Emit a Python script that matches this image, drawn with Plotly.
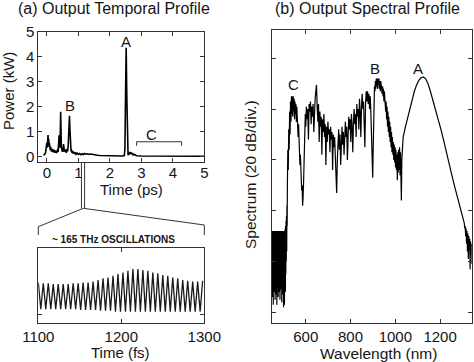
import plotly.graph_objects as go

W, H = 474, 362


def px(x):
    return x / W


def py(y):
    return 1 - y / H


FONT = "Liberation Sans, Arial, Helvetica, sans-serif"
INK = "#151515"

# ---------------- data ----------------
# (a) output temporal profile
time_ps = [
    -0.10, -0.07, -0.04, -0.02, 0.00, 0.01, 0.02, 0.03, 0.04, 0.05,
    0.06, 0.07, 0.08, 0.09, 0.10, 0.11, 0.12, 0.13, 0.14, 0.15,
    0.17, 0.19, 0.21, 0.23, 0.25, 0.27, 0.29, 0.31, 0.33, 0.35,
    0.36, 0.37, 0.38, 0.39, 0.40, 0.41, 0.42, 0.43, 0.44, 0.45,
    0.46, 0.47, 0.48, 0.49, 0.50, 0.51, 0.52, 0.53, 0.54, 0.55,
    0.56, 0.57, 0.58, 0.60, 0.62, 0.64, 0.66, 0.68, 0.70, 0.71,
    0.72, 0.73, 0.74, 0.75, 0.76, 0.77, 0.78, 0.80, 0.82, 0.84,
    0.86, 0.88, 0.90, 0.93, 0.96, 1.00, 1.04, 1.08, 1.12, 1.16,
    1.20, 1.25, 1.30, 1.35, 1.40, 1.50, 1.60, 1.70, 1.80, 1.90,
    2.00, 2.20, 2.40, 2.46, 2.48, 2.50, 2.52, 2.54, 2.56, 2.58,
    2.60, 2.62, 2.64, 2.66, 2.68, 2.70, 2.72, 2.74, 2.78, 2.85,
    3.00, 3.30, 3.60, 3.90, 4.20, 4.50, 4.80, 5.00,
]
power_kw = [
    0.05, 0.08, 0.15, 0.30, 0.55, 0.35, 0.62, 0.40, 0.86, 0.45,
    0.70, 0.38, 0.55, 0.30, 0.45, 0.25, 0.38, 0.22, 0.33, 0.20,
    0.30, 0.18, 0.28, 0.16, 0.25, 0.15, 0.22, 0.14, 0.20, 0.30,
    0.18, 0.50, 0.30, 0.85, 0.45, 0.70, 0.35, 1.20, 1.79, 1.10,
    0.40, 0.25, 0.35, 0.20, 0.30, 0.18, 0.28, 0.50, 0.25, 0.40,
    0.20, 0.30, 0.18, 0.25, 0.15, 0.30, 0.20, 0.45, 0.90, 1.30,
    1.63, 1.20, 0.60, 0.30, 0.40, 0.20, 0.28, 0.15, 0.22, 0.12,
    0.18, 0.10, 0.16, 0.09, 0.14, 0.08, 0.12, 0.07, 0.11, 0.08,
    0.12, 0.09, 0.11, 0.08, 0.10, 0.06, 0.05, 0.04, 0.035, 0.03,
    0.025, 0.02, 0.02, 0.04, 0.30, 2.50, 4.35, 2.40, 0.30, 0.05,
    0.15, 0.08, 0.18, 0.10, 0.16, 0.09, 0.14, 0.06, 0.08, 0.03,
    0.02, 0.02, 0.03, 0.03, 0.02, 0.02, 0.01, 0.01,
]
time_ticks = [0, 1, 2, 3, 4, 5]
power_ticks = [0, 1, 2, 3, 4, 5]

# inset: ~165 THz oscillations (peaks / troughs)
osc_time_fs = [
    1100, 1103, 1106, 1109, 1112, 1115, 1118, 1121, 1124, 1127,
    1130, 1133, 1136, 1139, 1142, 1145, 1148, 1151, 1154, 1157,
    1160, 1163, 1166, 1169, 1172, 1175, 1178, 1181, 1184, 1187,
    1190, 1193, 1196, 1199, 1202, 1205, 1208, 1211, 1214, 1217,
    1220, 1223, 1226, 1229, 1232, 1235, 1238, 1241, 1244, 1247,
    1250, 1253, 1256, 1259, 1262, 1265, 1268, 1271, 1274, 1277,
    1280, 1283, 1286, 1289, 1292, 1295, 1298,
]
osc_signal = [
    0.39, 0.07, 0.38, 0.07, 0.38, 0.07, 0.37, 0.07, 0.37, 0.07,
    0.37, 0.07, 0.37, 0.07, 0.38, 0.07, 0.38, 0.06, 0.39, 0.06,
    0.39, 0.06, 0.40, 0.06, 0.42, 0.05, 0.44, 0.05, 0.45, 0.05,
    0.47, 0.04, 0.49, 0.04, 0.51, 0.04, 0.53, 0.04, 0.55, 0.04,
    0.55, 0.04, 0.54, 0.04, 0.53, 0.04, 0.51, 0.04, 0.50, 0.04,
    0.48, 0.04, 0.47, 0.04, 0.45, 0.04, 0.44, 0.04, 0.42, 0.04,
    0.41, 0.04, 0.40, 0.04, 0.40, 0.04, 0.41,
]
fs_ticks = [1100, 1200, 1300]

# (b) output spectral profile (dB, 20 dB per division)
wavelength_nm = [
    448, 449, 450, 451, 452, 453, 454, 455, 456, 457,
    458, 459, 460, 461, 462, 463, 464, 465, 466, 467,
    468, 469, 470, 471, 472, 473, 474, 475, 476, 477,
    478, 479, 480, 481, 482, 483, 484, 485, 486, 487,
    488, 489, 490, 491, 492, 493, 494, 495, 496, 497,
    498, 499, 500, 501, 502, 503, 504, 505, 506, 507,
    508, 509, 510, 511, 512, 513, 514, 515, 516, 517,
    518, 520, 522, 524, 526, 528, 530, 532, 534, 536,
    538, 540, 542, 544, 546, 548, 550, 552, 554, 556,
    558, 560, 562, 564, 566, 568, 570, 572, 574, 576,
    578, 580, 582, 584, 586, 588, 590, 592, 594, 596,
    598, 600,
    603, 606, 609, 612, 615, 618, 621, 624, 627, 630,
    633, 636, 639, 642, 645, 648, 651, 654, 657, 660,
    663, 666, 669, 672, 675, 678, 681, 684, 687, 690,
    693, 696, 699, 702, 705, 708, 711, 714, 717, 720,
    723, 726, 729, 732, 735, 738, 741, 744, 747, 750,
    753, 756, 759, 762, 765, 768, 771, 774, 777, 780,
    783, 786, 789, 792, 795, 798, 801, 804, 807, 810,
    813, 816, 819, 822, 825, 828, 831, 834, 837, 840,
    843, 846, 849, 852, 855, 858, 861, 864, 867, 870,
    873, 876, 879, 882, 885, 888, 891, 894, 897, 899,
    901, 903,
    905, 907, 909, 911, 913, 915, 917, 919, 921, 923,
    925, 927, 929, 931, 933, 935, 937, 939, 941, 943,
    945, 947, 949, 951, 953, 955, 957, 959, 961, 963,
    965, 967, 969, 971, 973, 975, 977, 979, 981, 983,
    985, 987, 989, 991, 993, 995, 997, 999, 1001, 1003,
    1005, 1007, 1009, 1011, 1013, 1015, 1017, 1019, 1021, 1023,
    1025, 1027, 1029, 1031, 1033, 1035,
    1045, 1055, 1065, 1075, 1085, 1095, 1105, 1115, 1125, 1135,
    1145, 1155, 1165, 1175, 1185, 1195, 1205, 1215, 1225, 1235,
    1245, 1255, 1265, 1275, 1285, 1295, 1305,
    1308, 1310, 1312, 1314, 1316, 1318, 1320, 1322, 1324, 1326,
    1328, 1330, 1332, 1334, 1336, 1338, 1340, 1342,
]
spectrum_db = [
    -70, -90, -68, -94, -69, -85, -68, -97, -70, -88,
    -68, -92, -69, -86, -68, -95, -70, -89, -68, -93,
    -69, -87, -68, -97, -70, -90, -68, -88, -69, -94,
    -68, -86, -70, -92, -68, -89, -69, -95, -68, -87,
    -69, -91, -68, -88, -69, -96, -68, -86, -70, -93,
    -68, -89, -69, -98, -68, -90, -69, -97, -68, -88,
    -67, -92, -66, -85, -64, -80, -62, -76, -58, -66,
    -50, -36, -44, -28, -36, -21, -30, -17, -25, -15,
    -22, -15, -23, -15, -21, -16, -24, -17, -22, -18,
    -25, -19, -27, -22, -31, -26, -36, -32, -42, -38,
    -47, -44, -52, -50, -58, -55, -50, -40, -32, -26,
    -22, -27,
    -19, -24, -20, -32, -18, -21, -17, -26, -19, -23,
    -18, -29, -20, -16, -13, -10.5, -19, -25, -18, -33,
    -21, -27, -23, -38, -24, -29, -22, -31, -26, -42,
    -27, -33, -25, -30, -28, -37, -27, -32, -29, -44,
    -30, -35, -31, -39, -45, -53, -40, -31, -28, -36,
    -30, -42, -32, -27, -34, -29, -38, -30, -25, -31,
    -27, -40, -29, -23, -28, -24, -33, -22, -27, -37,
    -25, -20, -26, -22, -31, -18, -23, -20, -28, -16,
    -21, -31, -19, -14, -20, -17, -26, -35, -18, -13,
    -17, -13, -18, -14, -20, -15, -22, -30, -40, -47,
    -36, -22,
    -14, -11, -13, -9, -12, -8, -11, -8, -12, -8,
    -10, -8, -12, -9, -13, -9, -12, -10, -14, -11,
    -15, -12, -17, -13, -19, -15, -21, -17, -24, -19,
    -27, -21, -29, -23, -31, -25, -33, -27, -35, -29,
    -37, -31, -38, -33, -40, -34, -41, -35, -43, -36,
    -44, -38, -48, -37, -45, -36, -44, -35, -46, -37,
    -43, -56, -40, -34, -38, -31,
    -27, -23.5, -19.5, -16, -13, -10.5, -8.7, -7.7, -7.4, -8,
    -9.8, -12.5, -15.5, -18.5, -21.5, -25, -28.5, -32, -36, -40,
    -43.5, -47, -50.5, -54, -57.5, -61, -64,
    -65, -67, -66, -70, -67, -73, -68, -76, -69, -79,
    -70, -74, -71, -83, -72, -77, -73, -81,
]
wl_ticks = [600, 800, 1000, 1200]
db_ticks = [-100, -80, -60, -40, -20, 0]

assert len(time_ps) == len(power_kw)
assert len(osc_time_fs) == len(osc_signal)
assert len(wavelength_nm) == len(spectrum_db)

# ---------------- figure ----------------
fig = go.Figure()
fig.add_trace(go.Scatter(x=time_ps, y=power_kw, mode="lines",
                         line=dict(color="black", width=1.6),
                         xaxis="x", yaxis="y", hoverinfo="skip"))
fig.add_trace(go.Scatter(x=wavelength_nm, y=spectrum_db, mode="lines",
                         line=dict(color="black", width=1.2),
                         xaxis="x2", yaxis="y2", hoverinfo="skip"))
fig.add_trace(go.Scatter(x=osc_time_fs, y=osc_signal, mode="lines",
                         line=dict(color="#1a1a1a", width=1.3),
                         xaxis="x3", yaxis="y3", hoverinfo="skip"))

axis_common = dict(showline=True, linecolor="#333", linewidth=1,
                   mirror="ticks", ticks="inside", ticklen=4,
                   tickcolor="#333", tickwidth=1, showgrid=False,
                   zeroline=False, fixedrange=True, automargin=False,
                   tickfont=dict(family=FONT, size=15, color=INK))

fig.update_layout(
    width=W, height=H, autosize=False,
    margin=dict(l=0, r=0, t=0, b=0, pad=0),
    paper_bgcolor="white", plot_bgcolor="white",
    showlegend=False,
    xaxis=dict(axis_common, domain=[px(38.3), px(204.3)],
               range=[-0.27, 5.0], tickvals=time_ticks, anchor="y",
               ticklabelstandoff=-3),
    yaxis=dict(axis_common, domain=[py(161.5), py(31.5)],
               range=[-0.2, 5.0], tickvals=power_ticks, anchor="x"),
    xaxis2=dict(axis_common, domain=[px(271.7), px(471.7)],
                range=[448, 1341], tickvals=wl_ticks, anchor="y2"),
    yaxis2=dict(axis_common, domain=[py(323.3), py(30)],
                range=[-104.3, 11.1], tickvals=db_ticks,
                showticklabels=False, anchor="x2"),
    xaxis3=dict(axis_common, domain=[px(38.3), px(204.3)],
                range=[1100, 1300], tickvals=fs_ticks, anchor="y3"),
    yaxis3=dict(axis_common, domain=[py(323.3), py(248.3)],
                range=[-0.1, 0.8], tickvals=[0],
                showticklabels=False, anchor="x3"),
)


def label(text, x, y, size=15, xref="paper", yref="paper", angle=0, bold=False):
    fig.add_annotation(text=f"<b>{text}</b>" if bold else text,
                       x=x, y=y, xref=xref, yref=yref,
                       showarrow=False, textangle=angle,
                       xanchor="center", yanchor="middle",
                       font=dict(family=FONT, size=size, color=INK))


# titles and axis titles
label("(a) Output Temporal Profile", px(114), py(9), size=16)
label("(b) Output Spectral Profile", px(367), py(9), size=16)
label("Power (kW)", px(8), py(91), size=15, angle=-90)
label("Time (ps)", px(131), py(189), size=15)
label("Time (fs)", px(120), py(352), size=15)
label("Wavelength (nm)", px(378), py(353), size=15.5)
label("Spectrum (20 dB/div.)", px(251), py(175), size=15.5, angle=-90)
label("~ 165 THz OSCILLATIONS", px(113), py(239), size=10, bold=True)

# peak labels
label("A", 2.51, 4.59, size=15, xref="x", yref="y")
label("B", 0.73, 2.03, size=15, xref="x", yref="y")
label("C", 3.33, 0.89, size=15, xref="x", yref="y")
label("C", 545, -10.5, size=15, xref="x2", yref="y2")
label("B", 910, -3.9, size=15, xref="x2", yref="y2")
label("A", 1103, -4.2, size=15, xref="x2", yref="y2")

line_style = dict(color="#333", width=1)
# bracket for region C in (a)
fig.add_shape(type="line", xref="x", yref="y", x0=2.85, x1=4.28, y0=0.59, y1=0.59, line=line_style)
fig.add_shape(type="line", xref="x", yref="y", x0=2.85, x1=2.85, y0=0.59, y1=0.43, line=line_style)
fig.add_shape(type="line", xref="x", yref="y", x0=4.28, x1=4.28, y0=0.59, y1=0.43, line=line_style)

# zoom marker: double line from the time axis to the inset bracket
fig.add_shape(type="line", xref="x", yref="paper", x0=1.10, x1=1.10, y0=py(163), y1=py(208.3), line=line_style)
fig.add_shape(type="line", xref="x", yref="paper", x0=1.20, x1=1.20, y0=py(163), y1=py(208.3), line=line_style)
fig.add_shape(type="line", xref="paper", yref="paper", x0=px(83.3), y0=py(208.3), x1=px(38.3), y1=py(226.7), line=line_style)
fig.add_shape(type="line", xref="paper", yref="paper", x0=px(83.3), y0=py(208.3), x1=px(204.3), y1=py(225), line=line_style)
fig.add_shape(type="line", xref="paper", yref="paper", x0=px(38.3), y0=py(226.7), x1=px(38.3), y1=py(235), line=line_style)
fig.add_shape(type="line", xref="paper", yref="paper", x0=px(204.3), y0=py(225), x1=px(204.3), y1=py(235), line=line_style)

fig.write_html("out.html", config={"displayModeBar": False},
               post_script="document.body.style.margin='0px';")
